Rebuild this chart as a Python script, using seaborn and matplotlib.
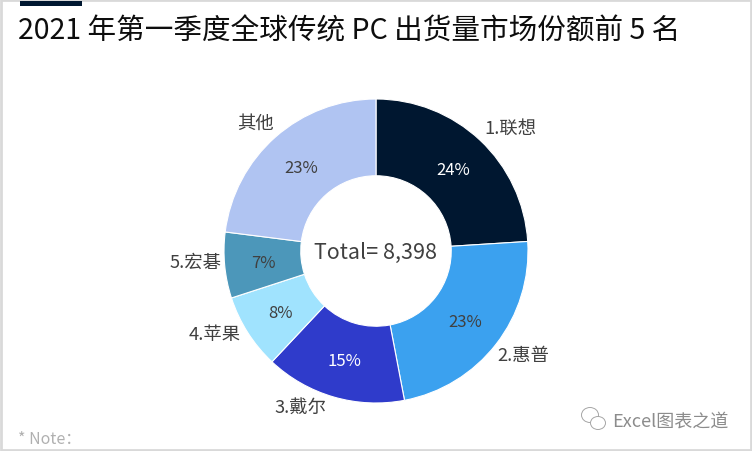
import matplotlib
matplotlib.use("Agg")
import matplotlib.pyplot as plt
from matplotlib.patches import Ellipse, Rectangle
import numpy as np
import seaborn as sns

title = "2021 年第一季度全球传统 PC 出货量市场份额前 5 名"
vendors = ["1.联想", "2.惠普", "3.戴尔", "4.苹果", "5.宏碁", "其他"]
shares = [24, 23, 15, 8, 7, 23]
slice_colors = ["#001730", "#3BA1EF", "#2F3BCB", "#A0E3FE", "#4C97BA", "#B0C4F2"]
pct_colors = ["white", "#404040", "white", "#404040", "#404040", "#404040"]
total_text = "Total= 8,398"
note_text = "* Note："
brand_text = "Excel图表之道"

sns.set_theme(style="white")
plt.rcParams["font.family"] = ["Noto Sans CJK SC", "DejaVu Sans"]

W, H = 752, 452
fig = plt.figure(figsize=(W / 100, H / 100), dpi=100, facecolor="white")

# Page layer in pixel coordinates: frame, accent bar, title, footers
page = fig.add_axes([0, 0, 1, 1])
page.set_xlim(0, W)
page.set_ylim(H, 0)
page.axis("off")
page.add_patch(Rectangle((1, 1), W - 2, H - 2, fill=False, ec="#D9D9D9", lw=2))
page.add_patch(Rectangle((20, 2), 62, 5, fc="#001730", ec="none"))
page.text(18, 32, title, fontsize=20.6, color="#0D0D0D", va="center", ha="left")
page.text(18, 439, note_text, fontsize=11.5, color="#B0B0B0", va="center", ha="left")
page.text(612, 422, brand_text, fontsize=13, color="#8C8C8C", va="center", ha="left")

# Chat bubbles beside the brand name
page.add_patch(Ellipse((590, 416), 17, 15, fill=False, ec="#A6A6A6", lw=0.7))
page.add_patch(Ellipse((598, 424), 15, 13, fc="white", ec="#A6A6A6", lw=0.7))

# Donut chart, centred at (376, 252) with a 152 px radius
cx, cy, radius = 376, 252, 152
ax = fig.add_axes([(cx - radius) / W, 1 - (cy + radius) / H, 2 * radius / W, 2 * radius / H])
ax.patch.set_alpha(0)
wedges, _, pct_texts = ax.pie(
    shares,
    colors=sns.color_palette(slice_colors),
    startangle=90,
    counterclock=False,
    radius=1,
    autopct=lambda p: f"{p:.0f}%",
    pctdistance=0.745,
    wedgeprops=dict(width=0.505, edgecolor="white", linewidth=0.8),
)
ax.set_xlim(-1, 1)
ax.set_ylim(-1, 1)

# CJK font metrics sit high when centred, so nudge text down slightly
nudge = 1 / radius
for t, c in zip(pct_texts, pct_colors):
    t.set_color(c)
    t.set_fontsize(12)
    x, y = t.get_position()
    t.set_position((x, y - nudge))

# Category names sit just outside the ring, placed by clock angle and distance
label_angles = [47.3, 125, 206, 243, 267, 317]
label_dists = [1.2, 1.185, 1.13, 1.19, 1.19, 1.165]
for name, a, d in zip(vendors, label_angles, label_dists):
    rad = np.deg2rad(a)
    ax.text(d * np.sin(rad), d * np.cos(rad) - nudge, name, fontsize=13.2, color="#404040",
            ha="center", va="center", clip_on=False)

ax.text(0, -nudge, total_text, fontsize=15.5, color="#404040", ha="center", va="center")

fig.savefig("out.png", dpi=100, facecolor="white")
